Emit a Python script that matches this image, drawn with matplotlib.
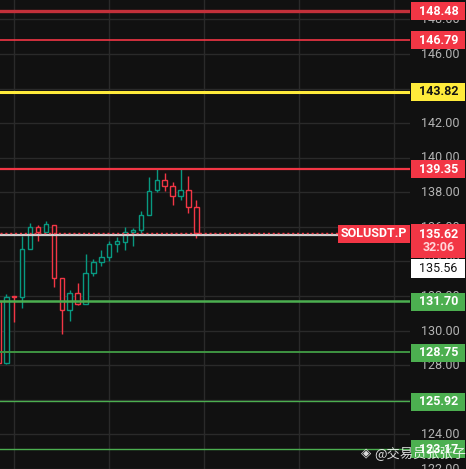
import matplotlib
matplotlib.use("Agg")
import matplotlib.pyplot as plt
from matplotlib.patches import Rectangle
from matplotlib.transforms import blended_transform_factory

# ---------------- data ----------------
opens  = [131.70, 128.13, 131.98, 131.94, 134.72, 135.99, 135.68, 136.10, 133.04, 131.17,
          132.17, 131.52, 133.33, 133.97, 134.26, 135.00, 135.12, 135.70, 135.82, 136.68,
          138.13, 138.70, 138.36, 137.78, 138.13, 137.14]
highs  = [131.90, 132.12, 132.00, 135.49, 136.24, 136.10, 136.33, 136.12, 133.04, 132.37,
          132.77, 134.45, 134.17, 134.68, 135.20, 135.43, 136.01, 135.93, 136.91, 138.88,
          139.34, 139.12, 138.61, 139.40, 138.95, 137.57]
lows   = [128.00, 128.05, 130.48, 131.29, 134.72, 135.16, 135.68, 132.50, 129.78, 130.58,
          131.46, 131.52, 133.14, 133.71, 134.04, 134.56, 134.69, 134.91, 135.66, 136.68,
          138.04, 138.10, 137.24, 137.53, 136.83, 135.33]
closes = [128.15, 131.94, 131.94, 134.72, 135.99, 135.68, 136.16, 133.04, 131.17, 132.17,
          131.52, 133.33, 133.97, 134.26, 135.02, 135.18, 135.70, 135.82, 136.68, 138.07,
          138.70, 138.36, 137.78, 138.13, 137.14, 135.62]

level_prices = [148.48, 146.79, 143.82, 139.35, 131.70, 128.75, 125.92, 123.17]
level_colors = ["#c2303a", "#f23645", "#ffeb3b", "#f23645", "#4caf50", "#3f9442", "#4caf50", "#4caf50"]
level_label_colors = ["#f23645", "#f23645", "#ffeb3b", "#f23645", "#4caf50", "#4caf50", "#4caf50", "#4caf50"]
level_text_colors = ["white", "white", "#131313", "white", "white", "white", "white", "white"]
level_widths = [2.4, 1.2, 2.2, 1.6, 1.8, 1.4, 1.0, 1.0]

tick_values = [122, 124, 126, 128, 130, 132, 134, 136, 138, 140, 142, 144, 146, 148]
last_price = 135.62
mark_price = 135.56
symbol = "SOLUSDT.P"
countdown = "32:06"
watermark = "@交易员张张子"

# ---------------- style ----------------
BG = "#111111"
GRID = "#2a2a2a"
UP = "#089981"
DOWN = "#f23645"
W, H = 466, 469
PLOT_W = 410
ymin, ymax = 122.03, 149.12
spacing = 7.92
x0 = 1 - 6.3 / spacing

fig = plt.figure(figsize=(W / 100, H / 100), dpi=100, facecolor=BG)
ax = fig.add_axes([0, 0, PLOT_W / W, 1])
ax.set_facecolor(BG)
ax.set_xlim(x0, x0 + PLOT_W / spacing)
ax.set_ylim(ymin, ymax)
for s in ax.spines.values():
    s.set_visible(False)
ax.set_xticks([2, 14, 26, 38, 50])
ax.set_yticks(tick_values)
ax.tick_params(length=0, labelleft=False, labelbottom=False)
ax.grid(True, color=GRID, linewidth=1)
ax.set_axisbelow(True)

# candles (hollow)
for i, (o, h, l, c) in enumerate(zip(opens, highs, lows, closes)):
    col = UP if c >= o else DOWN
    ax.vlines(i, l, h, color=col, linewidth=1, zorder=3)
    bot, top = min(o, c), max(o, c)
    ax.bar(i, max(top - bot, 0.03), bottom=bot, width=0.56, facecolor=BG,
           edgecolor=col, linewidth=1, zorder=4)

# level lines
for p, col, lw in zip(level_prices, level_colors, level_widths):
    ax.axhline(p, color=col, linewidth=lw, zorder=5)

# current price lines
ax.axhline(mark_price, color="#cfcfcf", linewidth=1.6, zorder=5)
ax.axhline(last_price, color=DOWN, linewidth=1, linestyle=(0, (1.5, 2)), zorder=6)

# right price axis
ax2 = fig.add_axes([PLOT_W / W, 0, (W - PLOT_W) / W, 1])
ax2.set_facecolor(BG)
ax2.set_xlim(0, W - PLOT_W)
ax2.set_ylim(ymin, ymax)
ax2.axis("off")
FONT = "Roboto"
for v in tick_values:
    ax2.text(30, v, f"{v:.2f}", ha="center", va="center", color="#b4b4b4",
             fontsize=9, family=FONT, zorder=1)

bh = 1.04
for p, bc, tc in zip(level_prices, level_label_colors, level_text_colors):
    ax2.add_patch(Rectangle((1, p - bh / 2), 54, bh, facecolor=bc, edgecolor="none", zorder=3))
    ax2.text(28.5, p, f"{p:.2f}", ha="center", va="center", color=tc, fontsize=9,
             family=FONT, fontweight="bold", zorder=4)

# last price box (two lines)
ax2.add_patch(Rectangle((1, last_price - 1.42), 54, 1.97, facecolor=DOWN,
                        edgecolor="none", zorder=3))
ax2.text(28.5, last_price - 0.02, f"{last_price:.2f}", ha="center", va="center", color="white",
         fontsize=9, family=FONT, fontweight="bold", zorder=4)
ax2.text(28.5, last_price - 0.77, countdown, ha="center", va="center", color="#ffd6da",
         fontsize=9, family=FONT, fontweight="bold", zorder=4)
# mark price box
ax2.add_patch(Rectangle((1, mark_price - 2.48), 54, 1.1, facecolor="white",
                        edgecolor="none", zorder=3))
ax2.text(28.5, mark_price - 1.93, f"{mark_price:.2f}", ha="center", va="center", color="#131313",
         fontsize=9, family=FONT, zorder=4)

# symbol box on chart
tr = blended_transform_factory(ax.transAxes, ax.transData)
ax.add_patch(Rectangle((338 / PLOT_W, last_price - 0.56), 72 / PLOT_W, 1.04, transform=tr,
                       facecolor=DOWN, edgecolor="none", zorder=7, clip_on=False))
ax.text(374 / PLOT_W, last_price - 0.02, symbol, transform=tr, ha="center", va="center",
        color="white", fontsize=9, family=FONT, fontweight="bold", zorder=8)

# watermark
fig.text(361 / W, 1 - 453 / H, "◈", ha="left", va="center", color="white", alpha=0.85,
         fontsize=9.5, family=["DejaVu Sans"], zorder=20)
fig.text(374 / W, 1 - 453 / H, watermark, ha="left", va="center", color="white", alpha=0.85,
         fontsize=9.5, family=["Noto Sans CJK SC", "DejaVu Sans"], zorder=20)

fig.savefig("out.png", dpi=100, facecolor=BG)
